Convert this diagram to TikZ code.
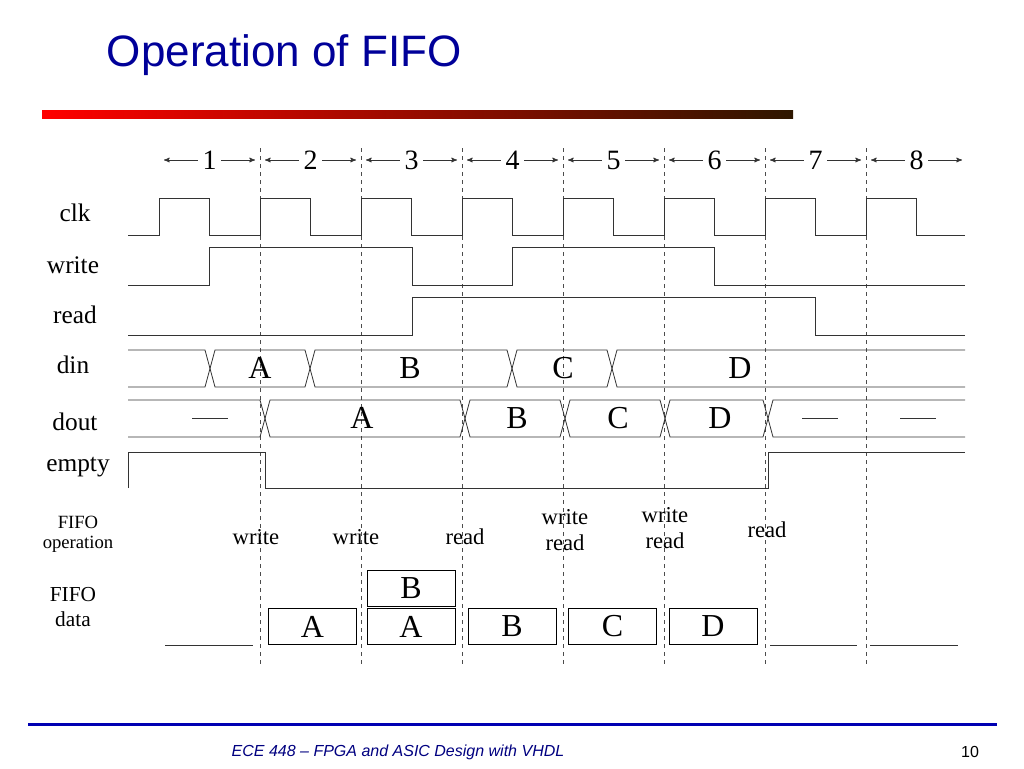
\documentclass[tikz,border=0pt]{standalone}
\usepackage{fontspec}
\setmainfont{Liberation Serif}
\newfontfamily\slidefont{Liberation Sans}
\usetikzlibrary{arrows}
\newcommand{\bushex}[4]{% x1 x2 ytop ybot
  \draw[sig] (#1,{(#3+#4)/2}) -- (#1+5,#3) -- (#2-5,#3) -- (#2,{(#3+#4)/2}) -- (#2-5,#4) -- (#1+5,#4) -- cycle;}
\begin{document}
\begin{tikzpicture}[x=0.75pt,y=-0.75pt,thick,
  sig/.style={line width=0.6pt,black!80},
  siglabel/.style={font=\fontsize{19}{19}\selectfont,anchor=center},
  bigtext/.style={font=\fontsize{24}{24}\selectfont},
  optext/.style={font=\fontsize{14}{15}\selectfont,align=center},
  fifoop/.style={font=\fontsize{17}{19}\selectfont,align=center},
  box/.style={draw,line width=0.6pt,minimum width=66pt,minimum height=27pt,inner sep=0pt,font=\fontsize{24}{24}\selectfont},
  bound/.style={dashed,line width=0.5pt,black!70}]
\useasboundingbox (0,0) rectangle (1024,768);
% title and bars
\node[font=\slidefont\fontsize{33}{33}\selectfont,text=blue!60!black,anchor=west] (title) at (102,55) {Operation of FIFO};
\shade[left color=red,right color=black!70!orange!60!black] (42,110) rectangle (793,118);
\fill[blue!70!black] (28,723) rectangle (997,726);
\node[font=\slidefont\itshape\fontsize{12}{12}\selectfont,text=blue!50!black] (foot) at (398,752) {ECE 448 – FPGA and ASIC Design with VHDL};
\node[font=\slidefont\fontsize{12}{12}\selectfont] (page) at (970,752) {10};
% signal names
\node[siglabel] (lclk) at (75,213) {clk};
\node[siglabel] (lwrite) at (73,265) {write};
\node[siglabel] (lread) at (75,315) {read};
\node[siglabel] (ldin) at (73,365) {din};
\node[siglabel] (ldout) at (75,422) {dout};
\node[siglabel] (lempty) at (78,467) {empty};
\node[optext] (lop) at (78,534) {FIFO\\operation};
\node[optext,font=\fontsize{16}{19}\selectfont] (ldata) at (73,607) {FIFO\\data};
% cycle boundaries and numbers
\foreach \k in {1,...,7}
  \draw[bound] (159+101*\k,148) -- (159+101*\k,665);
\foreach \i in {1,...,8} {
  \node[siglabel,font=\fontsize{21}{21}\selectfont] (n\i) at (159+101*\i-50.5,160) {\i};
  \draw[->,>=stealth',sig] (n\i.east) -- (159+101*\i-5,160);
  \draw[->,>=stealth',sig] (n\i.west) -- (159+101*\i-96,160);
}
% clk
\draw[sig] (128,235) -- (159,235)
  \foreach \k in {0,...,7} { -- (159+101*\k,235) -- (159+101*\k,198) -- (209+101*\k,198) -- (209+101*\k,235) } -- (965,235);
% write
\draw[sig] (128,285) -- (209,285) -- (209,247) -- (412,247) -- (412,285) -- (512,285) -- (512,247) -- (714,247) -- (714,285) -- (965,285);
% read
\draw[sig] (128,335) -- (412,335) -- (412,297) -- (815,297) -- (815,335) -- (965,335);
% din
\draw[sig] (128,350) -- (205,350) -- (210,368.5) -- (205,387) -- (128,387);
\bushex{210}{310}{350}{387}
\bushex{310}{512}{350}{387}
\bushex{512}{612}{350}{387}
\draw[sig] (965,350) -- (617,350) -- (612,368.5) -- (617,387) -- (965,387);
\node[bigtext] (dA) at (260,368) {A};
\node[bigtext] (dB) at (410,368) {B};
\node[bigtext] (dC) at (563,368) {C};
\node[bigtext] (dD) at (740,368) {D};
% dout
\draw[sig] (128,400) -- (260,400) -- (265,418.5) -- (260,437) -- (128,437);
\bushex{265}{465}{400}{437}
\bushex{465}{565}{400}{437}
\bushex{565}{665}{400}{437}
\bushex{665}{768}{400}{437}
\draw[sig] (965,400) -- (773,400) -- (768,418.5) -- (773,437) -- (965,437);
\node[bigtext] (oA) at (362,418) {A};
\node[bigtext] (oB) at (517,418) {B};
\node[bigtext] (oC) at (618,418) {C};
\node[bigtext] (oD) at (720,418) {D};
\foreach \x in {210,820,918}
  \draw[sig] (\x-18,418) -- (\x+18,418);
% empty
\draw[sig] (128,488) -- (128,452) -- (265,452) -- (265,488) -- (768,488) -- (768,452) -- (965,452);
% FIFO operation
\node[fifoop] (op2) at (256,537) {write};
\node[fifoop] (op3) at (356,537) {write};
\node[fifoop] (op4) at (465,537) {read};
\node[fifoop] (op5) at (565,530) {write\\read};
\node[fifoop] (op6) at (665,528) {write\\read};
\node[fifoop] (op7) at (767,530) {read};
% FIFO data
\node[box] (fA1) at (312.5,626.5) {A};
\node[box] (fA2) at (411,626.5) {A};
\node[box] (fB1) at (411,588.5) {B};
\node[box] (fB2) at (512,626.5) {B};
\node[box] (fC) at (612.5,626.5) {C};
\node[box] (fD) at (713,626.5) {D};
\draw[sig] (165,645) -- (253,645);
\draw[sig] (770,645) -- (857,645);
\draw[sig] (870,645) -- (958,645);
\end{tikzpicture}
\end{document}
